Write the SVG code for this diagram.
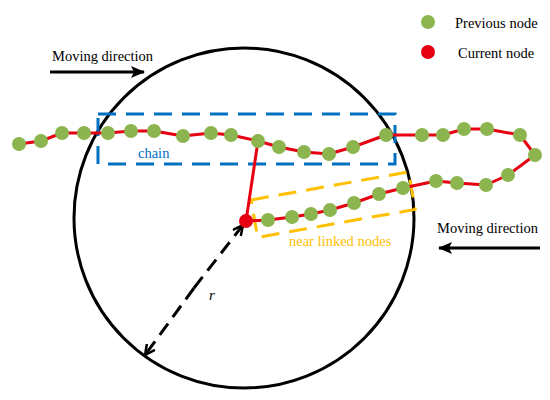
<svg xmlns="http://www.w3.org/2000/svg" width="550" height="400" viewBox="0 0 550 400">
<style>
.txt{font-family:"Liberation Serif","Times New Roman",serif;font-size:14.5px;fill:#000}
.prev{fill:#8CB54F}
.cur{fill:#E60012}
.chainline{fill:none;stroke:#E60012;stroke-width:3;stroke-linejoin:round}
</style>
<defs>
<marker id="ah" viewBox="0 0 14 12" refX="13" refY="6" markerWidth="14" markerHeight="12" markerUnits="userSpaceOnUse" orient="auto">
<path d="M0,0 L14,6 L0,12 L3,6 Z" fill="#000"/>
</marker>
<marker id="vh" viewBox="0 0 12 12" refX="11" refY="6" markerWidth="12" markerHeight="12" markerUnits="userSpaceOnUse" orient="auto">
<path d="M1,1 L11,6 L1,11" fill="none" stroke="#000" stroke-width="2.5"/>
</marker>
</defs>
<rect width="550" height="400" fill="#fff"/>
<g id="circle">
<circle cx="244" cy="218" r="170" fill="none" stroke="#000" stroke-width="3"/>
</g>
<g id="chain-box">
<rect x="98" y="114" width="297" height="50" fill="none" stroke="#0070C0" stroke-width="3" stroke-dasharray="18 10"/>
<text x="138" y="158" font-family="'Liberation Serif','Times New Roman',serif" font-size="14.5" fill="#0070C0">chain</text>
</g>
<g id="near-box">
<rect x="251" y="200" width="160" height="38" fill="none" stroke="#FFC000" stroke-width="3" stroke-dasharray="18 10" transform="rotate(-10.1 251 200)"/>
<text x="289" y="246" font-family="'Liberation Serif','Times New Roman',serif" font-size="14.5" fill="#FFC000">near linked nodes</text>
</g>
<g id="connectors">
<polyline class="chainline" points="19,144 41,141 62,133 84,133 108,133 131,131 154,131 183,136 211,133 231,135 258,141 279,147 304,152 329,154 353,147 386,135 422,135 443,135 464,129 487,129 520,135 535,155 508,175 486,185 457,183 436,181 403,188 379,194 354,203 330,210 311,214 292,217 268,220 246,221"/>
<line class="chainline" x1="258" y1="141" x2="246" y2="221"/>
<line x1="50" y1="72" x2="144" y2="72" stroke="#000" stroke-width="3" marker-end="url(#ah)"/>
<line x1="540" y1="248" x2="439" y2="248" stroke="#000" stroke-width="3" marker-end="url(#ah)"/>
<line x1="194" y1="288" x2="243" y2="225" stroke="#000" stroke-width="3" stroke-dasharray="14 8" marker-end="url(#vh)"/>
<line x1="194" y1="288" x2="145" y2="355" stroke="#000" stroke-width="3" stroke-dasharray="14 8" marker-end="url(#vh)"/>
</g>
<g id="nodes">
<circle class="prev" cx="19" cy="144" r="7"/>
<circle class="prev" cx="41" cy="141" r="7"/>
<circle class="prev" cx="62" cy="133" r="7"/>
<circle class="prev" cx="84" cy="133" r="7"/>
<circle class="prev" cx="108" cy="133" r="7"/>
<circle class="prev" cx="131" cy="131" r="7"/>
<circle class="prev" cx="154" cy="131" r="7"/>
<circle class="prev" cx="183" cy="136" r="7"/>
<circle class="prev" cx="211" cy="133" r="7"/>
<circle class="prev" cx="231" cy="135" r="7"/>
<circle class="prev" cx="258" cy="141" r="7"/>
<circle class="prev" cx="279" cy="147" r="7"/>
<circle class="prev" cx="304" cy="152" r="7"/>
<circle class="prev" cx="329" cy="154" r="7"/>
<circle class="prev" cx="353" cy="147" r="7"/>
<circle class="prev" cx="386" cy="135" r="7"/>
<circle class="prev" cx="422" cy="135" r="7"/>
<circle class="prev" cx="443" cy="135" r="7"/>
<circle class="prev" cx="464" cy="129" r="7"/>
<circle class="prev" cx="487" cy="129" r="7"/>
<circle class="prev" cx="520" cy="135" r="7"/>
<circle class="prev" cx="535" cy="155" r="7"/>
<circle class="prev" cx="508" cy="175" r="7"/>
<circle class="prev" cx="486" cy="185" r="7"/>
<circle class="prev" cx="457" cy="183" r="7"/>
<circle class="prev" cx="436" cy="181" r="7"/>
<circle class="prev" cx="403" cy="188" r="7"/>
<circle class="prev" cx="379" cy="194" r="7"/>
<circle class="prev" cx="354" cy="203" r="7"/>
<circle class="prev" cx="330" cy="210" r="7"/>
<circle class="prev" cx="311" cy="214" r="7"/>
<circle class="prev" cx="292" cy="217" r="7"/>
<circle class="prev" cx="268" cy="220" r="7"/>
<circle class="cur" cx="246" cy="221" r="7"/>
</g>
<g id="legend">
<circle class="prev" cx="428" cy="22" r="7"/>
<text class="txt" x="455" y="28">Previous node</text>
<circle class="cur" cx="428" cy="52" r="7"/>
<text class="txt" x="458" y="58">Current node</text>
</g>
<g id="labels">
<text class="txt" x="52" y="61">Moving direction</text>
<text class="txt" x="437" y="233">Moving direction</text>
<text x="209" y="300" font-family="'Liberation Serif','Times New Roman',serif" font-size="15" font-style="italic" fill="#000">r</text>
</g>
</svg>
